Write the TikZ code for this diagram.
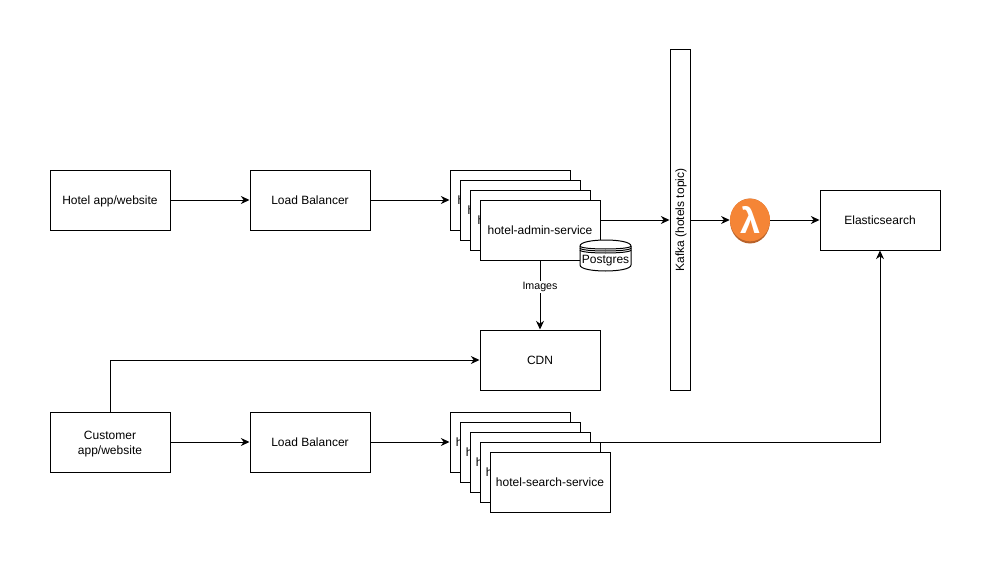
\documentclass[tikz,border=0pt]{standalone}
\usepackage{fontspec}
\setmainfont{Liberation Sans}
\usepackage{tikz}
\usetikzlibrary{arrows.meta,shapes.geometric}
\definecolor{lambdaorange}{HTML}{F58536}
\definecolor{lambdadark}{HTML}{B8622A}
\tikzset{
    box/.style={draw=black,fill=white,line width=0.75pt,minimum width=90pt,minimum height=45pt,inner sep=0pt,font=\fontsize{9}{11.5}\selectfont,align=center,text height=8pt,text depth=2pt},
    flow/.style={draw=black,line width=0.75pt,-{Stealth[length=6.5pt,width=6pt]}},
    stripe/.style={draw=black,line width=0.75pt}
}

\begin{document}
\begin{tikzpicture}[x=0.75pt,y=-0.75pt]
    \useasboundingbox (0,0) rectangle (991,563);
    % top row
    \node[box] (hotelapp) at (110,200) {Hotel app/website};
    \node[box] (lbtop) at (310,200) {Load Balancer};
    \node[box] (adminA) at (510,200) {hotel-admin-service};
    \node[box] (adminB) at (520,210) {hotel-admin-service};
    \node[box] (adminC) at (530,220) {hotel-admin-service};
    % kafka and lambda
    \node[box,minimum width=15pt,minimum height=255pt,text height=0pt,text depth=0pt] (kafka) at (680,220) {};
    \node[rotate=90,font=\fontsize{9}{11.5}\selectfont] (kafkatext) at (681,220) {Kafka (hotels topic)};
    \draw[flow] (adminC.east) -- (kafka.west);
    \node[box] (adminD) at (540,230) {hotel-admin-service};
    \draw[stripe,fill=white] (580,246) .. controls (580,238) and (631,238) .. (631,246) -- (631,265) .. controls (631,273) and (580,273) .. (580,265) -- cycle;
    \draw[stripe] (580,246) .. controls (580,250) and (631,250) .. (631,246);
    \draw[stripe] (580,248) .. controls (580,252) and (631,252) .. (631,248);
    \draw[stripe] (580,250) .. controls (580,254) and (631,254) .. (631,250);
    \node[font=\fontsize{9}{11.5}\selectfont,inner sep=0pt] (postgres) at (605.5,260.5) {Postgres};
    % bottom row
    \node[box] (cdn) at (540,360) {CDN};
    \node[box,text height=20.7pt] (customer) at (110,442) {Customer\\app/website};
    \node[box] (lbbottom) at (310,442) {Load Balancer};
    \node[box] (elastic) at (880,220) {Elasticsearch};
    \node[box] (searchA) at (510,442) {hotel-search-service};
    \coordinate (corner) at (880,442);
    \draw[flow] (searchA.east) -- (corner) -- (elastic.south);
    \node[box] (searchB) at (520,452) {hotel-search-service};
    \node[box] (searchC) at (530,462) {hotel-search-service};
    \node[box] (searchD) at (540,472) {hotel-search-service};
    \node[box] (searchE) at (550,482) {hotel-search-service};
    % lambda icon
    \fill[lambdadark] (750,221) ellipse[x radius=20,y radius=22.5];
    \node[ellipse,fill=lambdaorange,minimum width=30pt,minimum height=32pt,inner sep=0pt,text=white,font=\fontsize{27}{27}\selectfont] (lambda) at (750,220) {\bfseries λ};
    % connectors
    \draw[flow] (hotelapp) -- (lbtop);
    \draw[flow] (lbtop) -- (adminA);
    \draw[flow] (kafka.east) -- (lambda.west);
    \draw[flow] (lambda.east) -- (elastic.west);
    \draw[flow] (adminD) -- node[pos=0.38,fill=white,inner sep=1pt,font=\fontsize{8}{10}\selectfont] (images) {Images} (cdn);
    \coordinate (bend) at (110,360);
    \draw[flow] (customer) -- (bend) -- (cdn.west);
    \draw[flow] (customer) -- (lbbottom);
    \draw[flow] (lbbottom) -- (searchA);
\end{tikzpicture}
\end{document}
